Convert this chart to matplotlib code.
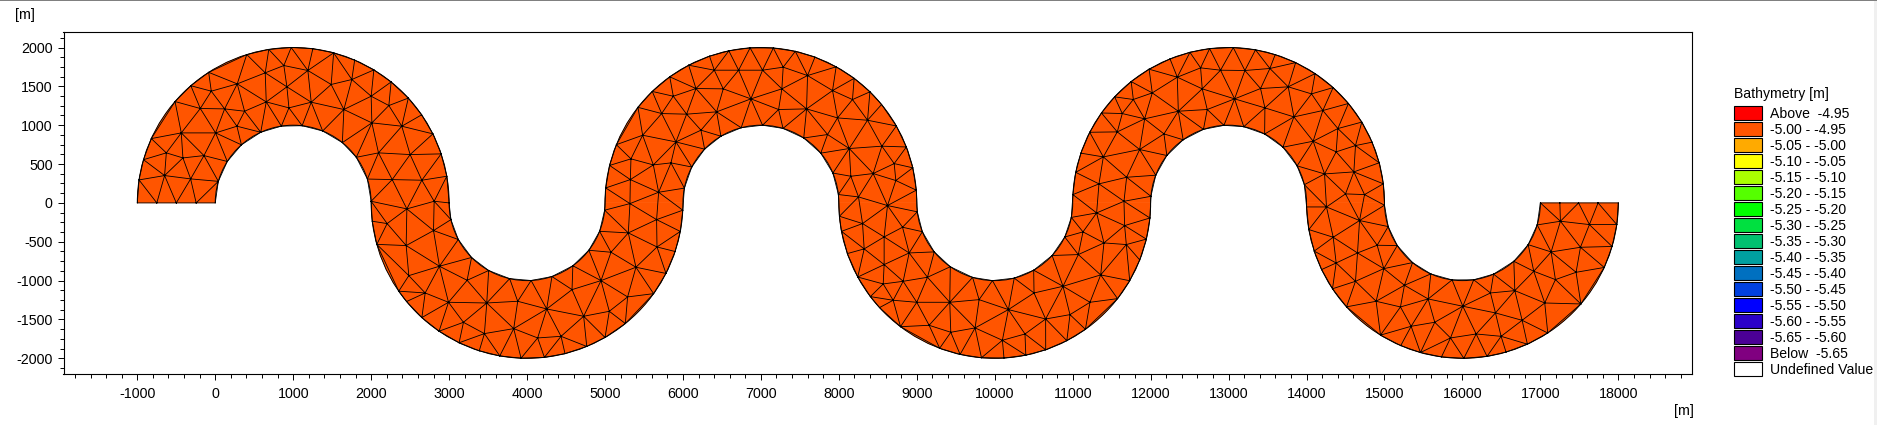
import numpy as np
import matplotlib
matplotlib.use('Agg')
import matplotlib.pyplot as plt
from matplotlib.patches import Wedge, Arc, Rectangle
from matplotlib.ticker import MultipleLocator
from matplotlib.tri import Triangulation

plt.rcParams['font.family'] = ['Liberation Sans', 'DejaVu Sans']
plt.rcParams['axes.unicode_minus'] = False

# -------------------------------
# Mesh nodes [m]
# -------------------------------
# nodes along the channel boundary
boundary_x = [-1000, -750, -500, -245, 0,
              -979, -927, -821, -521, -308, -94, 397, 684, 974, 1252, 1521, 1786, 2030, 2257,
              2470, 2641, 2791, 2898, 2970, 3000, 3023, 3116, 3282, 3509, 3774, 4052, 4321,
              4586, 4792, 4929, 4997, 5005, 5048, 5142, 5432, 5603, 5825, 6073, 6338, 6588,
              6861, 7160, 7442, 7685, 7963, 8185, 8398, 8540, 8732, 8869, 8945, 8980, 8997,
              9065, 9223, 9428, 9714, 9971, 10247, 10495, 10747, 10897, 10974, 10995, 11030,
              11094, 11209, 11367, 11538, 11756, 11978, 12243, 12500, 12756, 13060, 13346,
              13594, 13859, 14102, 14338, 14521, 14692, 14821, 14927, 14979, 15000, 15034,
              15150, 15346, 15590, 15868, 16146, 16402, 16659, 16843, 16945,
              17000, 17250, 17490, 17740, 18000,
              17980, 17911, 17813, 17514, 17086, 16830, 16560, 16317, 16018, 15731, 15462,
              15214, 14958, 14522, 14330, 14193, 14094, 14030, 14000, 13979, 13894, 13710,
              13466, 13196, 12940, 12671, 12406, 12192, 12043, 11991, 11978, 11936, 11850,
              11722, 11564, 11166, 10918, 10653, 10397, 10119, 9829, 9555, 9295, 8795, 8517,
              8410, 8261, 8133, 8039, 8005, 7987, 7928, 7782, 7556, 7286, 7021, 6744, 6474,
              6261, 6094, 6004, 5996, 5953, 5889, 5769, 5611, 5248, 5004, 4765, 4487, 4222,
              3923, 3650, 3389, 3133, 2876, 2654, 2458, 2321, 2064, 2013, 2000, 1957, 1829,
              1645, 1380, 1115, 846, 577, 321, 150, 34]
boundary_y = [0, 0, 0, 0, 0,
              296, 558, 828, 1309, 1502, 1695, 1931, 1991, 2000, 1985, 1940, 1833, 1704, 1558,
              1343, 1129, 888, 631, 343, 0, -215, -472, -708, -867, -987, -996, -953,
              -807, -609, -365, -94, 193, 485, 751, 1223, 1438, 1631, 1773, 1897, 1961,
              2000, 2000, 1953, 1854, 1747, 1588, 1429, 1260, 987, 721, 451, 163, -116,
              -373, -631, -824, -966, -996, -957, -858, -687, -438, -185, 107, 395,
              644, 914, 1159, 1365, 1554, 1725, 1867, 1953, 1991, 2000, 1974,
              1897, 1803, 1652, 1481, 1266, 1030, 773, 515, 245, -30, -309,
              -558, -785, -923, -987, -996, -923, -751, -537, -279,
              0, 0, 0, 0, 0,
              -279, -558, -828, -1296, -1661, -1811, -1923, -1983, -2000, -1983, -1923,
              -1824, -1687, -1330, -1107, -858, -622, -343, -52, 236, 485, 730,
              893, 987, 1000, 966, 828, 622, 365, 86, -193, -464, -730,
              -996, -1223, -1631, -1760, -1888, -1953, -2000, -2000, -1953, -1867, -1588, -1352,
              -1202, -944, -644, -365, -172, 107, 386, 652, 845, 966, 1000, 979, 880,
              708, 472, 193, -94, -365, -622, -901, -1159, -1537, -1738, -1846, -1940, -1983,
              -2000, -1970, -1897, -1790, -1644, -1472, -1266, -1159, -536, -236, 21, 309, 601,
              794, 931, 1000, 1000, 923, 764, 536, 279]

# nodes inside the channel
inner_x = [-650, -316, -628, -415, -145, -436, 4, -192, 120, 376, 278, -51, 282, 641, 880, 1188,
           919, 654, 945, 1231, 1487, 1752, 1650, 2000, 2227, 2009, 2393, 2094, 2500, 2270, 2650,
           2458, 2808, 2205, 2800, 2449, 2876, 2483, 3231, 2693, 2992, 3483, 3184, 3453,
           3880, 4252, 3829, 4136, 4436, 4726, 4577, 4949, 5055, 5290, 5397, 5077, 5667, 5299,
           5662, 5320, 5688, 5325, 5333, 5620, 5846, 5483, 5910, 5727, 6047, 6432, 6231, 5876,
           6167, 6517, 6402, 6714, 7021, 6872, 7286, 7269, 7227, 7598, 7586, 7919, 8175, 7855,
           7983, 8368, 8133, 8552, 8154, 8440, 8710, 8731, 8252, 8624, 8304, 8817, 8581, 8325,
           8902, 8581, 9137, 8825, 8569, 8697, 9000, 9423, 9799, 9158, 9436, 9748,
           10175, 10098, 10388, 10653, 10504, 10876, 10965, 11222, 11359, 11072, 11401, 11688,
           11132, 11666, 11307, 11658, 11337, 11692, 11393, 11859, 11572, 11923, 11636, 12171,
           12355, 12726, 12021, 11778, 12662, 13077, 12342, 12641, 12897, 13209, 13530, 13410,
           13765, 13466, 13838, 14064, 14209, 14402, 14085, 14628, 14380, 14607, 14231, 14500,
           14744, 14256, 14680, 14342, 14906, 14654, 14380, 14991, 14628, 15256, 14893, 15560,
           15205, 15645, 15342, 16005, 15847, 16176, 16424, 16496, 16766, 16360, 16672, 17056,
           16915, 17193, 17138, 17458, 17514, 17257, 17629]
inner_y = [352, 309, 644, 579, 609, 901, 901, 1215, 1210, 1180, 987, 1438, 1532, 1674, 1768, 1704,
           1494, 1300, 1223, 1296, 1524, 1588, 1202, 1373, 1253, 1030, 987, 644, 622, 300, 292,
           -77, 21, -266, -356, -549, -815, -936, -996, -1159, -1279, -1288, -1537, -1682,
           -1266, -1365, -1618, -1738, -1717, -1459, -1116, -1000, -1395, -1210, -828, -635, -567, -386,
           -215, -9, 137, 300, 567, 489, 515, 871, 785, 1150, 1142, 1172, 936, 1373,
           1472, 1468, 1708, 1708, 1708, 1339, 1747, 1468, 1202, 1639, 1210, 1446, 1330, 880,
           1094, 1064, 700, 730, 343, 378, 506, 288, 77, -34, -266, -313, -438, -592,
           -644, -794, -957, -1009, -1043, -1253, -1279, -1279, -1245, -1575, -1665, -1609,
           -1373, -1768, -1687, -1494, -1159, -1073, -1438, -1279, -927, -665, -515, -536,
           -373, -292, -129, 21, 245, 330, 592, 687, 914, 1082, 1150, 888,
           1180, 1202, 1416, 1331, 1468, 1339, 1618, 1738, 1708, 1704, 1730, 1472,
           1494, 1223, 1107, 1403, 1189, 957, 794, 738, 657, 399, 373, 116,
           107, -52, -227, -442, -545, -644, -773, -846, -1009, -1060, -1266, -1236,
           -1339, -1536, -1588, -1330, -1738, -1687, -1416, -1717, -1511, -1159, -1129, -1288,
           -880, -987, -631, -893, -571, -236, -279]

# channel bends: centre of each half ring, +1 above the axis, -1 below
bend_centres = [1000, 4000, 7000, 10000, 13000, 16000]
bend_sides = [1, -1, 1, -1, 1, -1]
radius_in = 1000
radius_out = 2000

# legend
legend_title = 'Bathymetry [m]'
legend_labels = ['Above  -4.95', '-5.00 - -4.95', '-5.05 - -5.00', '-5.10 - -5.05', '-5.15 - -5.10',
                 '-5.20 - -5.15', '-5.25 - -5.20', '-5.30 - -5.25', '-5.35 - -5.30', '-5.40 - -5.35',
                 '-5.45 - -5.40', '-5.50 - -5.45', '-5.55 - -5.50', '-5.60 - -5.55', '-5.65 - -5.60',
                 'Below  -5.65', 'Undefined Value']
legend_colors = ['#FF0000', '#FF5500', '#FFAA00', '#FFFF00', '#AAFF00', '#55FF00', '#00FF00', '#00E040',
                 '#00C070', '#00A0A0', '#0070C0', '#0040E0', '#0000FF', '#2A00C8', '#4B0096', '#800080',
                 '#FFFFFF']
fill_color = legend_colors[1]

W, H = 1877, 425
font_size = 10.3
legend_font = 10.1

fig = plt.figure(figsize=(W / 100, H / 100), dpi=100)
ax = fig.add_axes([63.5 / W, (H - 374) / H, (1692.3 - 63.5) / W, (374 - 31.5) / H])

# -------------------------------
# Channel fill and outline
# -------------------------------
for c, side in zip(bend_centres, bend_sides):
    t1, t2 = (0, 180) if side > 0 else (180, 360)
    ax.add_patch(Wedge((c, 0), radius_out, t1, t2, width=radius_out - radius_in,
                       facecolor=fill_color, edgecolor=fill_color, linewidth=0.3, zorder=1))
    for r in (radius_in, radius_out):
        ax.add_patch(Arc((c, 0), 2 * r, 2 * r, theta1=t1, theta2=t2,
                         color='black', linewidth=0.7, zorder=3))

# -------------------------------
# Mesh
# -------------------------------
bx = np.array(boundary_x, dtype=float)
by = np.array(boundary_y, dtype=float)

# the values were read by eye, so put the boundary nodes back on their arcs
centres = np.array(bend_centres, dtype=float)
sides = np.array(bend_sides)
for i in range(len(bx)):
    if by[i] == 0:
        continue
    same_side = centres[sides == np.sign(by[i])]
    c = same_side[np.argmin(np.abs(same_side - bx[i]))]
    r = np.hypot(bx[i] - c, by[i])
    target = radius_in if abs(r - radius_in) < abs(r - radius_out) else radius_out
    bx[i] = c + (bx[i] - c) * target / r
    by[i] = by[i] * target / r

x = np.concatenate([bx, inner_x])
y = np.concatenate([by, inner_y])
tri = Triangulation(x, y)

# drop the triangles that fall outside the channel, and the long hull slivers
cx = x[tri.triangles].mean(axis=1)
cy = y[tri.triangles].mean(axis=1)
inside = np.zeros(len(cx), dtype=bool)
for c, side in zip(bend_centres, bend_sides):
    r = np.hypot(cx - c, cy)
    inside |= (r > radius_in) & (r < radius_out) & (cy * side > 0)
tx = x[tri.triangles]
ty = y[tri.triangles]
longest = np.hypot(tx - np.roll(tx, 1, axis=1), ty - np.roll(ty, 1, axis=1)).max(axis=1)
tri.set_mask(~inside | (longest > 800))
ax.triplot(tri, color='black', linewidth=0.6, zorder=2)

# -------------------------------
# Axes
# -------------------------------
ax.set_xlim(-1947, 18949)
ax.set_ylim(-2202, 2206)
ax.xaxis.set_major_locator(MultipleLocator(1000))
ax.xaxis.set_minor_locator(MultipleLocator(200))
ax.yaxis.set_major_locator(MultipleLocator(500))
ax.yaxis.set_minor_locator(MultipleLocator(125))
ax.tick_params(which='major', length=4.3, width=0.7, labelsize=font_size)
ax.tick_params(which='minor', length=2.9, width=0.7)
ax.tick_params(axis='x', which='major', pad=5)
ax.tick_params(axis='y', which='major', pad=3.5)
for s in ax.spines.values():
    s.set_linewidth(0.8)

# -------------------------------
# Window furniture and legend, in pixels
# -------------------------------
over = fig.add_axes([0, 0, 1, 1], facecolor='none')
over.set_xlim(0, W)
over.set_ylim(H, 0)
over.axis('off')

over.add_patch(Rectangle((0, 0), W, 1.2, facecolor='#808080', edgecolor='none'))
over.add_patch(Rectangle((1874, 1), 3, H, facecolor='#F0F0F0', edgecolor='none'))
over.text(15, 15, '[m]', fontsize=font_size, ha='left', va='center')
over.text(1674, 411, '[m]', fontsize=font_size, ha='left', va='center')

over.text(1734, 93.5, legend_title, fontsize=legend_font, ha='left', va='center')
for i, (lab, col) in enumerate(zip(legend_labels, legend_colors)):
    top = 106 + 16 * i
    over.add_patch(Rectangle((1734.5, top), 28, 14, facecolor=col, edgecolor='black', linewidth=0.8))
    over.text(1770, top + 7.5, lab, fontsize=legend_font, ha='left', va='center')

fig.savefig('out.png', dpi=100)
